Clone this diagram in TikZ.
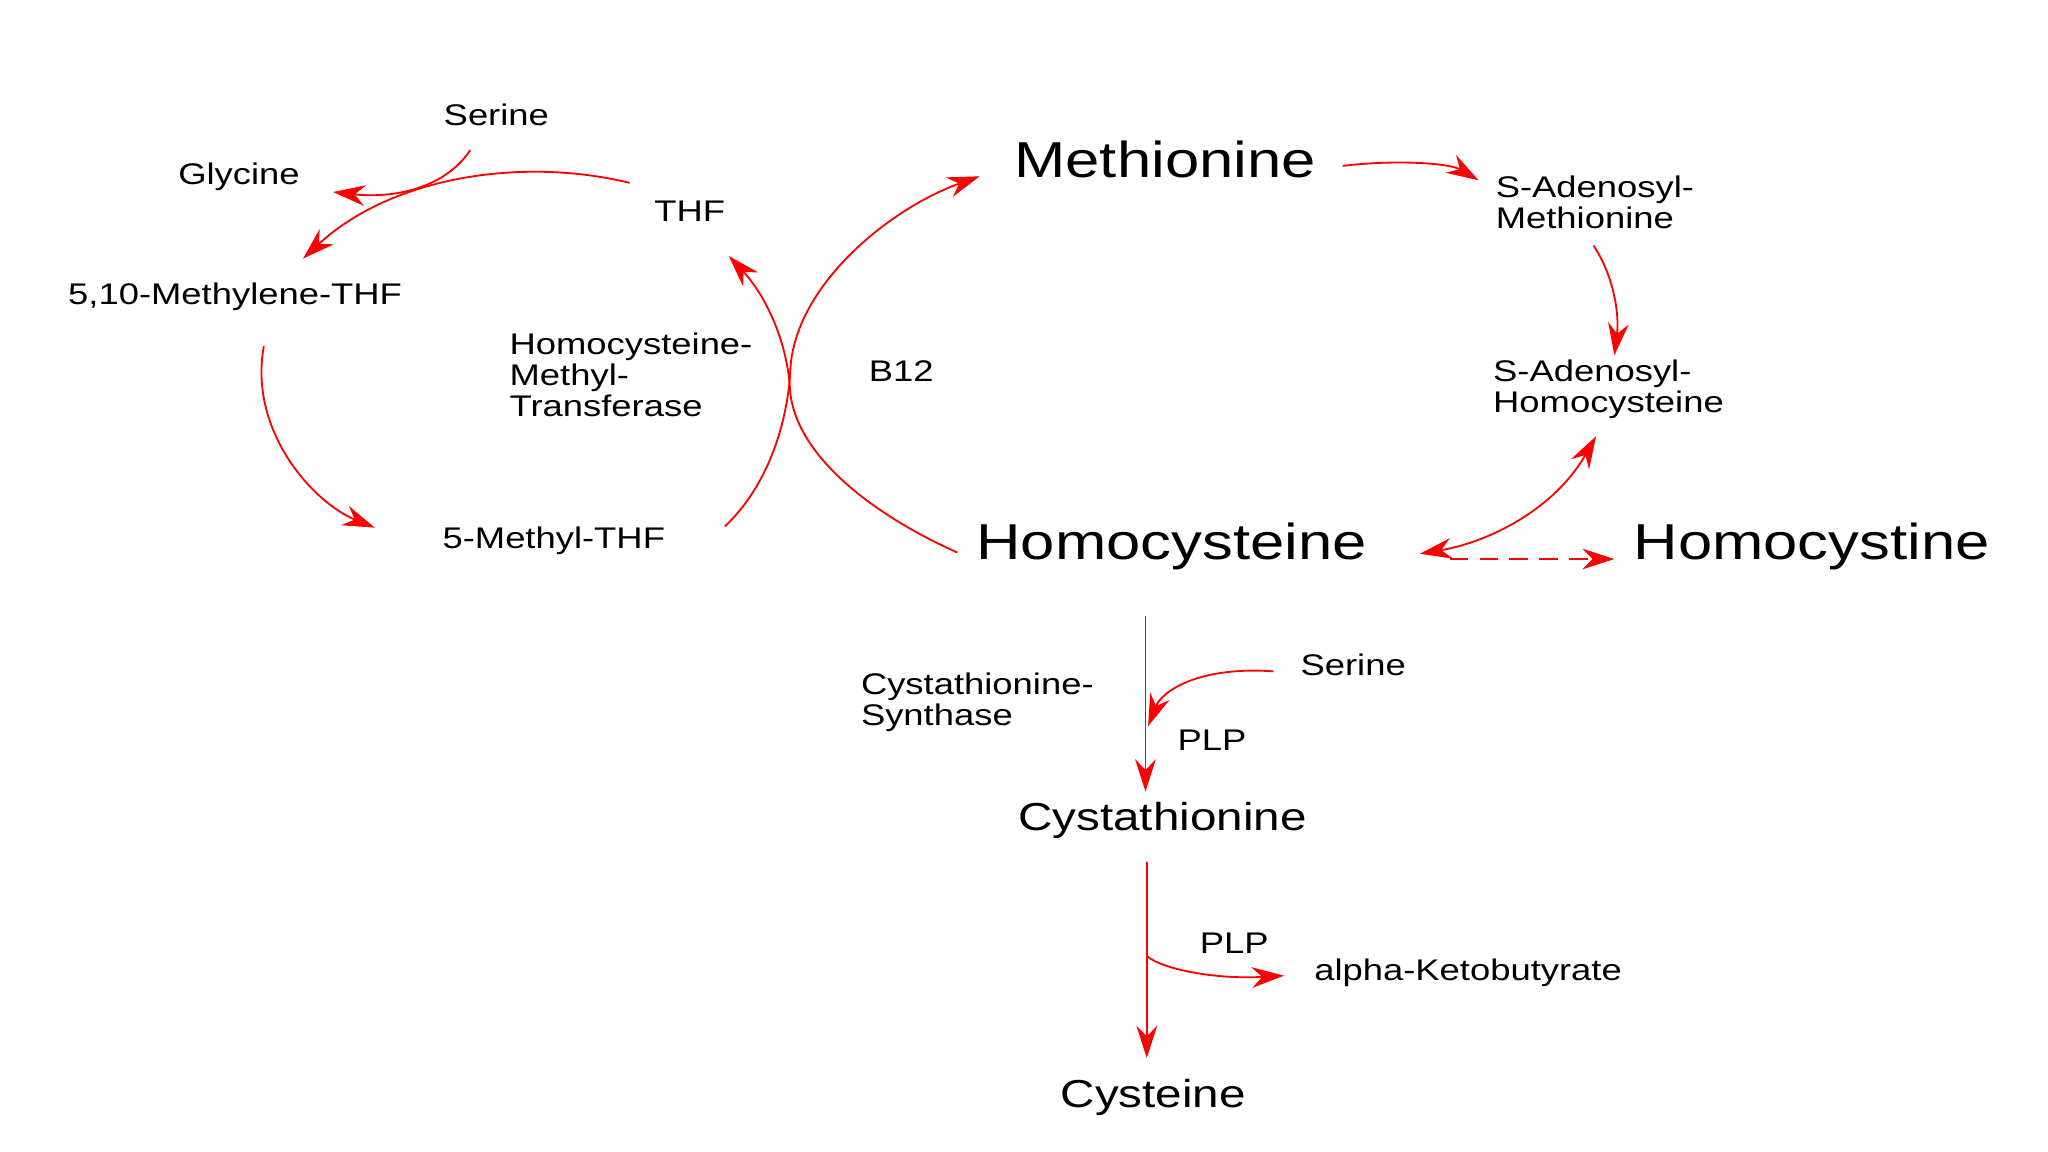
\documentclass[tikz,border=0pt]{standalone}
\usepackage{fontspec}
\setmainfont[FakeStretch=1.22]{Liberation Sans}
\usetikzlibrary{arrows.meta}
\begin{document}
\begin{tikzpicture}[x=0.02cm,y=-0.02cm,
  sm/.style={font=\fontsize{13}{13}\selectfont},
  smb/.style={font=\fontsize{13}{13.5}\selectfont,align=left,anchor=west},
  md/.style={font=\fontsize{17}{17}\selectfont},
  lg/.style={font=\fontsize{22}{22}\selectfont},
  arr/.style={draw=red,line width=0.8pt,-{Stealth[length=14pt,width=9pt]}},
  darr/.style={arr,{Stealth[length=14pt,width=9pt]}-{Stealth[length=14pt,width=9pt]}}]
\useasboundingbox (0,0) rectangle (1568,882);
\fill[white] (0,0) rectangle (1568,882);
\node[sm] (ser1) at (380,88) {Serine};
\node[sm] (gly) at (183,135) {Glycine};
\node[sm] (thf) at (528,162) {THF};
\node[sm] (mthf) at (180,227) {5,10-Methylene-THF};
\node[smb] (hmt) at (384,287) {Homocysteine-\\Methyl-\\Transferase};
\node[sm] (b12) at (690,284) {B12};
\node[sm] (m5) at (424,414) {5-Methyl-THF};
\node[lg] (met) at (892,122) {Methionine};
\node[smb] (sam) at (1139,155) {S-Adenosyl-\\Methionine};
\node[smb] (sah) at (1137,298) {S-Adenosyl-\\Homocysteine};
\node[lg] (hcy) at (897,418) {Homocysteine};
\node[lg] (hcs) at (1387,418) {Homocystine};
\node[smb] (cbs) at (653,538) {Cystathionine-\\Synthase};
\node[sm] (ser2) at (1036,509) {Serine};
\node[sm] (plp1) at (928,567) {PLP};
\node[md] (cth) at (890,628) {Cystathionine};
\node[sm] (plp2) at (945,722) {PLP};
\node[sm] (akb) at (1124,745) {alpha-Ketobutyrate};
\node[md] (cys) at (883,840) {Cysteine};
\coordinate (s1a) at (360,115); \coordinate (s1b) at (255,147);
\draw[arr] (s1a) .. controls (340,145) and (300,152) .. (s1b);
\coordinate (t1) at (482,140); \coordinate (t2) at (232,198);
\draw[arr] (t1) .. controls (400,120) and (300,135) .. (t2);
\coordinate (c1) at (202,265); \coordinate (c2) at (287,404);
\draw[arr] (c1) .. controls (190,330) and (240,385) .. (c2);
\coordinate (m1) at (555,403); \coordinate (mm) at (605,285); \coordinate (m2) at (750,135);
\draw[arr] (m1) .. controls (590,370) and (603,320) .. (mm) .. controls (607,220) and (680,160) .. (m2);
\coordinate (h1) at (733,423); \coordinate (hm) at (605,300); \coordinate (h2) at (558,196);
\draw[arr] (h1) .. controls (670,395) and (610,350) .. (hm) .. controls (603,260) and (585,225) .. (h2);
\coordinate (a1) at (1028,127); \coordinate (a2) at (1132,138);
\draw[arr] (a1) .. controls (1070,122) and (1110,125) .. (a2);
\coordinate (b1) at (1220,188); \coordinate (b2) at (1236,272);
\draw[arr] (b1) .. controls (1235,210) and (1240,240) .. (b2);
\coordinate (d1) at (1222,334); \coordinate (d2) at (1087,424);
\draw[darr] (d1) .. controls (1190,390) and (1140,415) .. (d2);
\coordinate (e1) at (1110,428); \coordinate (e2) at (1236,428);
\draw[arr,dash pattern=on 8pt off 5pt] (e1) -- (e2);
\coordinate (v1) at (877,472); \coordinate (v2) at (877,606);
\draw[arr] (v1) -- (v2);
\coordinate (w1) at (975,514); \coordinate (w2) at (879,556);
\draw[arr] (w1) .. controls (920,510) and (890,528) .. (w2);
\coordinate (x1) at (878,660); \coordinate (x2) at (878,810);
\draw[arr] (x1) -- (x2);
\coordinate (y1) at (878,732); \coordinate (y2) at (983,747);
\draw[arr] (y1) .. controls (890,742) and (930,750) .. (y2);
\end{tikzpicture}
\end{document}
